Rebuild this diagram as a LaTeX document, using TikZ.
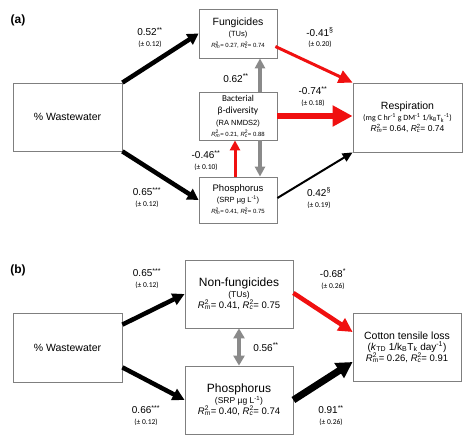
\documentclass[tikz,border=0pt]{standalone}
\usepackage{fontspec}
\setmainfont{Liberation Sans}
\newfontfamily\calfont{Carlito}
\usetikzlibrary{arrows.meta,calc}
\newcommand\fs[2]{\fontsize{#1}{#2}\selectfont}
\newcommand\Rsq[1]{\textit{R}\setbox0\hbox{\textsubscript{\textit{#1}}}\setbox2\hbox{\textsuperscript{2}}\rlap{\box2}\box0}
\definecolor{boxgray}{HTML}{7F7F7F}
\definecolor{arrgray}{HTML}{8A8A8A}
\definecolor{arrred}{HTML}{F01010}
\begin{document}
\begin{tikzpicture}[x=1pt,y=-1pt,
  box/.style={draw=boxgray,line width=0.8pt,fill=white,inner sep=0pt,align=center},
  coef/.style={align=center,inner sep=0pt,font=\fs{10}{11}},
  blk/.style={draw=black,fill=black},
  redar/.style={draw=arrred,fill=arrred},
  grayar/.style={draw=arrgray,fill=arrgray},
  panel/.style={font=\bfseries\fs{12}{14},inner sep=0pt}]
\useasboundingbox (0,0) rectangle (474,443);
% ---------- panel (a) ----------
\node[panel] (pa) at (18,20) {(a)};
\node[box,minimum width=109pt,minimum height=68pt] (Wwa) at (67.5,117) {\fs{10.5}{12}\% Wastewater};
\node[box,minimum width=78pt,minimum height=49pt] (Fung) at (238,33.5)
  {{\fs{10.5}{11}Fungicides}\\[-1pt]{\fs{7.5}{8}(TUs)}\\[-1pt]{\fs{6}{7}\Rsq{m} = 0.27, \Rsq{c} = 0.74}};
\node[box,minimum width=78pt,minimum height=48pt] (Bact) at (238,116)
  {{\calfont\fs{9}{10}Bacterial}\\[0pt]{\calfont\fs{9.5}{10}β-diversity}\\[0pt]{\fs{7.5}{8}(RA NMDS2)}\\[-1pt]{\fs{6}{7}\Rsq{m} = 0.21, \Rsq{c} = 0.88}};
\node[box,minimum width=78pt,minimum height=46pt] (Phosa) at (238,200)
  {{\fs{9.5}{10}Phosphorus}\\[-1pt]{\fs{7.5}{8}(SRP µg L\textsuperscript{-1})}\\[-1pt]{\fs{6}{7}\Rsq{m} = 0.41, \Rsq{c} = 0.75}};
\node[box,minimum width=109pt,minimum height=69pt] (Resp) at (407.5,117.5)
  {{\fs{10.5}{11}Respiration}\\[-1pt]{\calfont\fs{8}{9}(mg C hr\textsuperscript{-1} g DM\textsuperscript{-1} 1/k\textsubscript{B}T\textsubscript{k}\textsuperscript{-1})}\\[-1pt]{\fs{8.5}{9}\Rsq{m} = 0.64, \Rsq{c} = 0.74}};
% arrows (a)
\draw[blk,line width=4.5pt,-{Triangle[length=11pt,width=12pt]}] (Wwa.north east) -- (Fung.west);
\draw[blk,line width=4.5pt,-{Triangle[length=11pt,width=12pt]}] (Wwa.south east) -- (Phosa.west);
\draw[blk,line width=2pt,-{Triangle[length=10pt,width=9pt]}] ($(Phosa.east)+(0,-2)$) -- (Resp.south west);
\draw[redar,line width=3pt,-{Triangle[length=14pt,width=13pt]}] ($(Fung.east)+(-2,13)$) -- (Resp.north west);
\draw[redar,line width=5.5pt,-{Triangle[length=20pt,width=20pt]}] (Bact.east) -- (Bact.east -| Resp.west);
\draw[grayar,line width=3.5pt,-{Triangle[length=10pt,width=10pt]}] ($(Bact.north)+(22,0)$) -- ($(Fung.south)+(22,0)$);
\draw[grayar,line width=3.5pt,-{Triangle[length=10pt,width=10pt]}] ($(Bact.south)+(22,0)$) -- ($(Phosa.north)+(22,0)$);
\draw[redar,line width=3pt,-{Triangle[length=10pt,width=10pt]}] ($(Phosa.north)+(-3,0)$) -- ($(Bact.south)+(-3,0)$);
% labels (a)
\node[coef] (c1) at (150,37.5) {0.52\textsuperscript{**}\\[-0.5pt]{\calfont\fs{7.5}{8}(± 0.12)}};
\node[coef] (c2) at (320,37.5) {-0.41\textsuperscript{§}\\[-0.5pt]{\calfont\fs{7.5}{8}(± 0.20)}};
\node[coef] (c3) at (236,78) {0.62\textsuperscript{**}};
\node[coef] (c4) at (313,96.5) {-0.74\textsuperscript{**}\\[0pt]{\calfont\fs{7.5}{8}(± 0.18)}};
\node[coef] (c5) at (206,160.5) {-0.46\textsuperscript{**}\\[-0.5pt]{\calfont\fs{7.5}{8}(± 0.10)}};
\node[coef] (c6) at (147,197.5) {0.65\textsuperscript{***}\\[-0.5pt]{\calfont\fs{7.5}{8}(± 0.12)}};
\node[coef] (c7) at (319,198) {0.42\textsuperscript{§}\\[0pt]{\calfont\fs{7.5}{8}(± 0.19)}};
% ---------- panel (b) ----------
\node[panel] (pb) at (18,270) {(b)};
\node[box,minimum width=109pt,minimum height=69pt] (Wwb) at (67.5,347.5) {\fs{10.5}{12}\% Wastewater};
\node[box,minimum width=108pt,minimum height=68pt] (Nonf) at (239,294)
  {{\fs{12}{13}Non-fungicides}\\[-1pt]{\fs{8.5}{9}(TUs)}\\[-1pt]{\fs{9.5}{10}\Rsq{m} = 0.41, \Rsq{c} = 0.75}};
\node[box,minimum width=108pt,minimum height=68pt] (Phosb) at (239,400)
  {{\fs{12}{13}Phosphorus}\\[-1pt]{\fs{8.5}{9}(SRP µg L\textsuperscript{-1})}\\[-1pt]{\fs{9.5}{10}\Rsq{m} = 0.40, \Rsq{c} = 0.74}};
\node[box,minimum width=108pt,minimum height=68pt] (Cot) at (407,347)
  {{\fs{10.5}{11}Cotton tensile loss}\\[-1pt]{\fs{10}{11}(\textit{k}\textsubscript{TD} 1/k\textsubscript{B}T\textsubscript{k} day\textsuperscript{-1})}\\[-1pt]{\fs{9.5}{10}\Rsq{m} = 0.26, \Rsq{c} = 0.91}};
% arrows (b)
\draw[blk,line width=4.5pt,-{Triangle[length=12pt,width=12pt]}] ($(Wwb.north east)+(0,12)$) -- (Nonf.west);
\draw[blk,line width=4.5pt,-{Triangle[length=12pt,width=12pt]}] ($(Wwb.south east)+(0,-15)$) -- (Phosb.west);
\draw[redar,line width=4.5pt,-{Triangle[length=14pt,width=14pt]}] ($(Nonf.east)+(0,-1)$) -- ($(Cot.west)+(0,-15)$);
\draw[blk,line width=7pt,-{Triangle[length=16pt,width=17pt]}] (Phosb.east) -- ($(Cot.west)+(0,15)$);
\draw[grayar,line width=4pt,{Triangle[length=10pt,width=11pt]}-{Triangle[length=10pt,width=11pt]}] (Nonf.south) -- (Phosb.north);
% labels (b)
\node[coef] (d1) at (147,278.5) {0.65\textsuperscript{***}\\[-0.5pt]{\calfont\fs{7.5}{8}(± 0.12)}};
\node[coef] (d2) at (333,279) {-0.68\textsuperscript{*}\\[0pt]{\calfont\fs{7.5}{8}(± 0.26)}};
\node[coef] (d3) at (266,347) {0.56\textsuperscript{**}};
\node[coef] (d4) at (146,415.5) {0.66\textsuperscript{***}\\[-0.5pt]{\calfont\fs{7.5}{8}(± 0.12)}};
\node[coef] (d5) at (331,415.5) {0.91\textsuperscript{**}\\[-0.5pt]{\calfont\fs{7.5}{8}(± 0.26)}};
\end{tikzpicture}
\end{document}
